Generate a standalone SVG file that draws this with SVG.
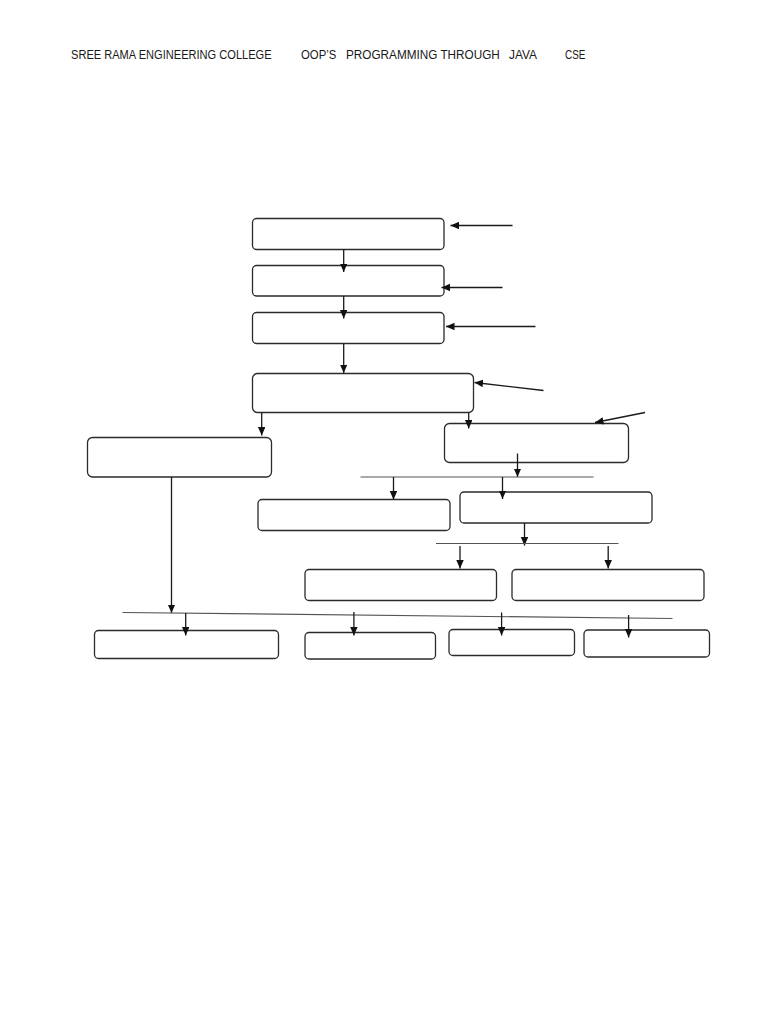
<svg xmlns="http://www.w3.org/2000/svg" width="768" height="1024" viewBox="0 0 768 1024">
<style>
  .hdr { font-family: "Liberation Sans", Arial, sans-serif; font-size: 13px; fill: #1a1a1a; }
  .box { fill: #ffffff; stroke: #2b2b2b; stroke-width: 1.3; }
  .ln { stroke: #1a1a1a; stroke-width: 1.3; fill: none; }
  .bar { stroke: #555555; stroke-width: 1.2; fill: none; }
</style>
<defs>
  <marker id="ah" markerUnits="userSpaceOnUse" markerWidth="9" markerHeight="8" refX="8.5" refY="3.75" orient="auto">
    <path d="M0,0 L8.5,3.75 L0,7.5 z" fill="#111111"/>
  </marker>
</defs>
<rect width="768" height="1024" fill="#ffffff"/>
<g id="header">
  <text class="hdr" transform="translate(71,59) scale(0.85,1)" x="0" y="0" textLength="236" lengthAdjust="spacingAndGlyphs">SREE RAMA ENGINEERING COLLEGE</text>
  <text class="hdr" transform="translate(301,59) scale(0.85,1)" x="0" y="0" textLength="41.5" lengthAdjust="spacingAndGlyphs">OOP’S</text>
  <text class="hdr" transform="translate(346,59) scale(0.85,1)" x="0" y="0" textLength="181" lengthAdjust="spacingAndGlyphs">PROGRAMMING THROUGH</text>
  <text class="hdr" transform="translate(509,59) scale(0.85,1)" x="0" y="0" textLength="33" lengthAdjust="spacingAndGlyphs">JAVA</text>
  <text class="hdr" transform="translate(565,59) scale(0.85,1)" x="0" y="0" textLength="24" lengthAdjust="spacingAndGlyphs">CSE</text>
</g>
<g id="node1"><rect class="box" x="252.5" y="218.5" width="191.5" height="31" rx="4"/></g>
<g id="node2"><rect class="box" x="252.5" y="265.5" width="191.5" height="30.5" rx="4"/></g>
<g id="node3"><rect class="box" x="252.5" y="312.5" width="191.5" height="31" rx="4"/></g>
<g id="node4"><rect class="box" x="252.5" y="373.5" width="221" height="39" rx="5"/></g>
<g id="node5"><rect class="box" x="87.5" y="437.5" width="184" height="39.5" rx="5"/></g>
<g id="node6"><rect class="box" x="444.5" y="423.5" width="184" height="39" rx="5"/></g>
<g id="node11"><rect class="box" x="258" y="499.5" width="192" height="31" rx="4"/></g>
<g id="node12"><rect class="box" x="460" y="492" width="192" height="31" rx="4"/></g>
<g id="node13"><rect class="box" x="305" y="569.5" width="191.5" height="31" rx="4"/></g>
<g id="node14"><rect class="box" x="512" y="569.5" width="192" height="31" rx="4"/></g>
<g id="node7"><rect class="box" x="94.5" y="630.5" width="184" height="28" rx="4"/></g>
<g id="node8"><rect class="box" x="305" y="632.5" width="130.5" height="26.5" rx="4"/></g>
<g id="node9"><rect class="box" x="449" y="629.5" width="125.5" height="26" rx="4"/></g>
<g id="node10"><rect class="box" x="584" y="630" width="125.5" height="27" rx="4"/></g>
<g id="connectors">
  <line class="ln" x1="512.5" y1="225.5" x2="450.5" y2="225.5" marker-end="url(#ah)"/>
  <line class="ln" x1="502.5" y1="287.5" x2="441.5" y2="287.5" marker-end="url(#ah)"/>
  <line class="ln" x1="535.5" y1="326.5" x2="446" y2="326.5" marker-end="url(#ah)"/>
  <line class="ln" x1="543.5" y1="390.5" x2="474.5" y2="382.5" marker-end="url(#ah)"/>
  <line class="ln" x1="645" y1="412.5" x2="595" y2="422.5" marker-end="url(#ah)"/>
  <line class="ln" x1="343.7" y1="249.5" x2="343.7" y2="272" marker-end="url(#ah)"/>
  <line class="ln" x1="343.7" y1="296" x2="343.7" y2="318.5" marker-end="url(#ah)"/>
  <line class="ln" x1="343.7" y1="343.5" x2="343.7" y2="373" marker-end="url(#ah)"/>
  <line class="ln" x1="261.7" y1="412.5" x2="261.7" y2="435.5" marker-end="url(#ah)"/>
  <line class="ln" x1="468.7" y1="412.5" x2="468.7" y2="428.5" marker-end="url(#ah)"/>
  <line class="ln" x1="517.5" y1="453.5" x2="517.5" y2="477" marker-end="url(#ah)"/>
  <line class="bar" x1="360.5" y1="477" x2="593.5" y2="477"/>
  <line class="ln" x1="393.5" y1="477" x2="393.5" y2="499.5" marker-end="url(#ah)"/>
  <line class="ln" x1="502.5" y1="477" x2="502.5" y2="499" marker-end="url(#ah)"/>
  <line class="ln" x1="524.5" y1="523" x2="524.5" y2="545.5" marker-end="url(#ah)"/>
  <line class="bar" x1="436" y1="543.5" x2="618.5" y2="543.5"/>
  <line class="ln" x1="460" y1="546" x2="460" y2="568.5" marker-end="url(#ah)"/>
  <line class="ln" x1="608.2" y1="546" x2="608.2" y2="568.5" marker-end="url(#ah)"/>
  <line class="ln" x1="171.5" y1="477" x2="171.5" y2="613" marker-end="url(#ah)"/>
  <line class="bar" x1="122.5" y1="612.5" x2="672.5" y2="618.5"/>
  <line class="ln" x1="185.7" y1="613" x2="185.7" y2="635.5" marker-end="url(#ah)"/>
  <line class="ln" x1="353.9" y1="612" x2="353.9" y2="635.5" marker-end="url(#ah)"/>
  <line class="ln" x1="501.6" y1="612.5" x2="501.6" y2="635.5" marker-end="url(#ah)"/>
  <line class="ln" x1="628.6" y1="615" x2="628.6" y2="637.5" marker-end="url(#ah)"/>
</g>
</svg>
